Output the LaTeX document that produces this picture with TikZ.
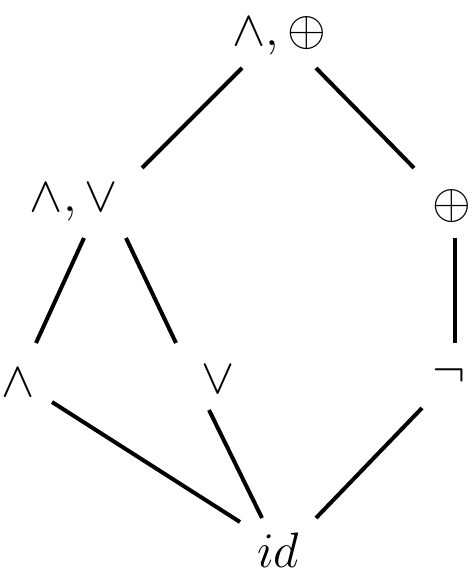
\documentclass[tikz,border=0pt]{standalone}
\usetikzlibrary{calc}
\begin{document}
\begin{tikzpicture}[x=0.5pt,y=-0.5pt,
  lbl/.style={inner sep=0pt,font=\fontsize{26}{30}\selectfont},
  edge/.style={line width=2pt}]
\useasboundingbox (0,0) rectangle (473,582);
\node[lbl] (top) at (279,36) {$\wedge,\oplus$};
\node[lbl] (av) at (74,203) {$\wedge,\vee$};
\node[lbl] (xo) at (452,206) {$\oplus$};
\node[lbl] (and) at (18,383) {$\wedge$};
\node[lbl] (or) at (218,380) {$\vee$};
\node[lbl] (neg) at (449,376) {$\neg$};
\node[lbl] (id) at (278,550) {$id$};
\draw[edge] ($(top)+(-37,32)$) -- ($(av)+(68,-35)$);
\draw[edge] ($(top)+(37,32)$) -- ($(xo)+(-38,-38)$);
\draw[edge] ($(av)+(10,35)$) -- ($(and)+(18,-40)$);
\draw[edge] ($(av)+(52,35)$) -- ($(or)+(-42,-37)$);
\draw[edge] ($(xo)+(3,32)$) -- ($(neg)+(6,-33)$);
\draw[edge] ($(and)+(34,19)$) -- ($(id)+(-38,-28)$);
\draw[edge] ($(or)+(-9,30)$) -- ($(id)+(-16,-32)$);
\draw[edge] ($(neg)+(-27,32)$) -- ($(id)+(38,-32)$);
\end{tikzpicture}
\end{document}
